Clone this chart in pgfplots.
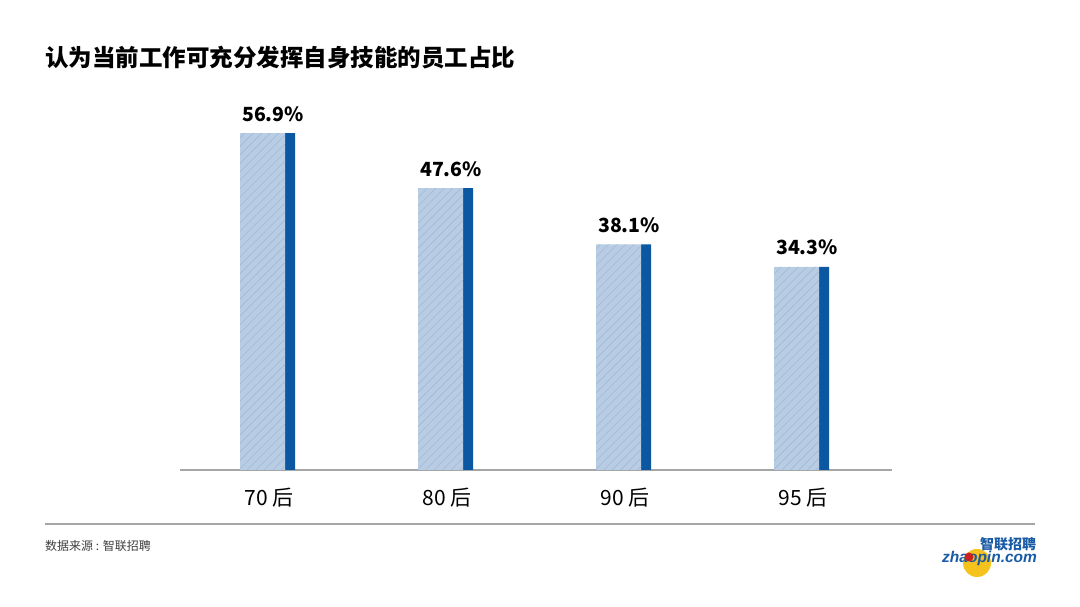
\documentclass[border=0pt]{standalone}
\usepackage{fontspec}
\setmainfont{Noto Sans CJK SC}
\newfontfamily\logofont{Liberation Sans}
\usepackage{pgfplots}
\pgfplotsset{compat=1.18}
\usetikzlibrary{patterns.meta}
\definecolor{lightbar}{HTML}{B8CCE4}
\definecolor{hatch}{HTML}{A2B9D7}
\definecolor{darkbar}{HTML}{0B57A2}
\definecolor{axisgray}{HTML}{A6A6A6}
\definecolor{logoblue}{HTML}{1A5BA6}
\definecolor{logoyellow}{HTML}{F6C21C}
\definecolor{logored}{HTML}{C8231E}
\begin{document}
\begin{tikzpicture}[x=1pt,y=1pt]
\fill[white] (0,0) rectangle (1080,607);
% title
\node[anchor=west, inner sep=0pt, font=\bfseries\fontsize{23.5}{28}\selectfont] at (45,549) {认为当前工作可充分发挥自身技能的员工占比};
\begin{axis}[
  at={(180pt,137pt)}, anchor=south west,
  width=712pt, height=355.2pt, scale only axis,
  xmin=-0.5, xmax=3.5, ymin=0, ymax=60,
  axis x line*=bottom, axis y line=none,
  x axis line style={draw=axisgray, line width=1.2pt, -},
  xtick={0,1,2,3},
  xticklabels={70 后, 80 后, 90 后, 95 后},
  major tick length=0pt,
  xticklabel style={anchor=base, inner sep=0pt, yshift=-36pt, font=\fontsize{21}{24}\selectfont},
  ytick=\empty,
  /pgf/number format/assume math mode=true,
  clip=false,
]
\addplot[ybar, bar width=10pt, bar shift=21pt, fill=darkbar, draw=none]
  coordinates {(0,56.9) (1,47.6) (2,38.1) (3,34.3)};
\addplot[ybar, bar width=45pt, bar shift=-6.5pt, fill=lightbar, draw=none,
  postaction={pattern={Lines[angle=45,distance=6pt,line width=0.6pt]}, pattern color=hatch},
  nodes near coords={\pgfmathprintnumber[fixed,fixed zerofill,precision=1]{\pgfplotspointmeta}\%},
  every node near coord/.append style={anchor=base, inner sep=0pt, yshift=12pt, xshift=4pt,
    text=black, font=\bfseries\fontsize{19.5}{22}\selectfont}]
  coordinates {(0,56.9) (1,47.6) (2,38.1) (3,34.3)};
\end{axis}
% bottom separator
\draw[draw=axisgray, line width=1.2pt] (45,83) -- (1035,83);
\node[anchor=west, inner sep=0pt, font=\fontsize{12}{14}\selectfont, text=black!75] at (45,61) {数据来源 : 智联招聘};
% logo
\fill[logoyellow] (977,44) circle (14);
\node[anchor=base west, inner sep=0pt, font=\logofont\bfseries\itshape\fontsize{15.5}{16}\selectfont, text=logoblue] at (942,44) {zhaopin.com};
\fill[logored] (969,50) circle (4.5);
\node[anchor=base west, inner sep=0pt, font=\bfseries\fontsize{14}{15}\selectfont, text=logoblue] at (980,57) {智联招聘};
\end{tikzpicture}
\end{document}
